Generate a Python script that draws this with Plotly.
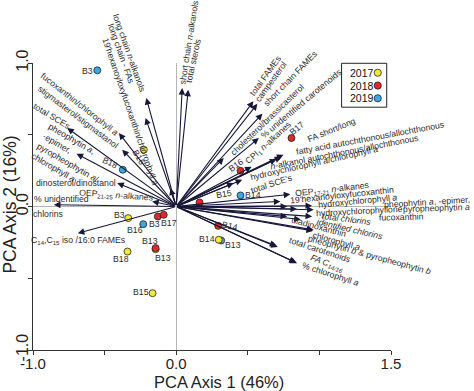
import plotly.graph_objects as go

FONT = "Liberation Sans, Arial, sans-serif"
TXT = "#2b2b2b"
ARROW = "#17173a"

# ---------------- variable loadings (arrow tips) ----------------
var_names = [
    "% unidentified chlorins", "C14,C15 iso/16:0 FAMEs", "OEP21-25 n-alkanes",
    "dinosterol/dinostanol", "pheophytin a, -epimer, pyropheophytin a/chlorophyll a",
    "total SCEs", "stigmasterol/stigmastanol", "fucoxanthin/chlorophyll a",
    "long chain n-alkanols", "long chain - FAs", "19'hexanoyloxyfucoxanthin/chlorophyll a",
    "short chain n-alkanols", "total sterols", "total FAMEs", "campesterol",
    "short chain FAMEs", "cholesterol/brassicasterol", "% unidentified carotenoids",
    "CPI1 n-alkanes", "FA short/long", "fatty acid autochthonous/allochthonous",
    "n-alkanol autochthonous/allochthonous", "hydroxychlorophyll a/chlorophyll a",
    "total SCE's", "OEP17-21 n-alkanes", "19'hexanoyloxyfucoxanthin",
    "hydroxychlorophyll a", "pheophytin a, -epimer", "hydroxychlorophyllone",
    "pyropheophytin a", "total chlorins", "fucoxanthin", "identified chlorins",
    "diadinoxanthin", "chlorophyll a", "pheophytin b & pyropheophytin b",
    "total carotenoids", "FA C14/16", "% chlorophyll a",
]
load_x = [-0.854, -0.687, -0.168, -0.412, -0.696, -0.761, -0.377, -0.400, -0.209, -0.214,
          -0.040, 0.042, 0.084, 0.539, 0.567, 0.602, 0.332, 0.577, 0.527, 0.749,
          0.735, 0.700, 0.461, 0.401, 0.797, 0.728, 0.775, 0.949, 0.960, 0.844,
          0.775, 0.949, 0.870, 0.960, 0.955, 0.709, 0.700, 0.844, 0.835]
load_y = [0.012, -0.186, 0.035, 0.163, 0.368, 0.547, 0.396, 0.512, 0.756, 0.617,
          0.125, 0.826, 0.814, 0.734, 0.716, 0.647, 0.338, 0.477, 0.277, 0.361,
          0.346, 0.330, 0.186, 0.163, 0.085, 0.035, 0.000, 0.005, -0.023, -0.018,
          -0.070, -0.070, -0.090, -0.163, -0.170, -0.283, -0.275, -0.395, -0.390]

# ---------------- sample scores ----------------
sample_year = ["2019", "2019", "2019", "2019", "2019",
               "2018", "2018", "2018", "2018", "2018", "2018", "2018",
               "2017", "2017", "2017", "2017", "2017", "2017"]
sample_site = ["B3", "B18", "B16", "B14", "B13",
               "B17", "B16", "B15", "B14", "B3", "B17", "B13",
               "B16", "B3", "B13", "B18", "B15", "B14"]
score_x = [-0.551, -0.373, -0.230, 0.449, 0.314,
           0.805, 0.449, 0.163, 0.293, -0.128, -0.087, -0.144,
           -0.226, -0.335, -0.144, -0.340, -0.165, 0.297]
score_y = [0.949, 0.256, -0.123, 0.077, -0.237,
           0.477, 0.249, 0.028, -0.135, -0.070, -0.058, -0.290,
           0.396, -0.081, -0.298, -0.314, -0.604, -0.232]

years = ["2017", "2018", "2019"]
year_colors = {"2017": "#f4e83a", "2018": "#e2262b", "2019": "#3ba7de"}
draw_order = ["2019", "2017", "2018"]

x_tickvals = [-1.0, -0.5, 0.0, 0.5, 1.0, 1.5]
x_ticktext = ["-1.0", "", "0.0", "", "", "1.5"]
y_tickvals = [-1.0, -0.5, 0.0, 0.5, 1.0]
y_ticktext = ["-1.0", "", "0.0", "", "1.0"]
x_title = "PCA Axis 1 (46%)"
y_title = "PCA Axis 2 (16%)"

# ---------------- label layout (index, html, dx px, dy px (down), angle, align) ----------------
var_labels = [
    (0, "% unidentified", 7.7, -5.5, 0, "left"),
    (0, "chlorins", -5.3, 9.5, 0, "left"),
    (1, "C<sub>14</sub>,C<sub>15</sub> iso /16:0 FAMEs", 0.7, 7.3, 0, "left"),
    (2, "OEP<sub>21-25</sub> <i>n</i>-alkanes", -35.6, -5.7, 4, "left"),
    (3, "dinosterol/dinostanol", -41.7, 0.2, 0, "left"),
    (4, "pheophytin <i>a</i>,<br>-epimer,<br>pyropheophytin <i>a</i>/<br>chlorophyll <i>a</i>", -5.4, 4.2, 30, "left"),
    (5, "total SCEs", -15.6, -11.8, 31, "left"),
    (6, "stigmasterol/stigmastanol", -44.2, -32.5, 37, "left"),
    (7, "fucoxanthin/chlorophyll <i>a</i>", -39.4, -29.3, 38, "left"),
    (8, "long chain <i>n</i>-alkanols", -17.2, -44.9, 70.5, "left"),
    (9, "long chain - FAs", -24.6, -63.6, 70.5, "left"),
    (10, "19'hexanoyloxyfucoxanthin/chlorophyll <i>a</i>", -39.7, -77.0, 71, "left"),
    (11, "short chain <i>n</i>-alkanols", 6.6, -46.1, -81, "left"),
    (12, "total sterols", 4.9, -28.8, -78, "left"),
    (13, "total FAMEs", 11.7, -25.2, -54, "left"),
    (14, "campesterol", 13.1, -22.1, -54, "left"),
    (15, "short chain FAMEs", 28.5, -35.4, -46, "left"),
    (16, "cholesterol/brassicasterol", 43.0, -38.4, -44, "left"),
    (17, "% unidentified carotenoids", 43.1, -34.8, -40, "left"),
    (18, "CPI<sub>1</sub> <i>n</i>-alkanes", 17.1, -24.5, -42, "left"),
    (19, "FA short/long", 47.8, -25.0, -22, "left"),
    (20, "fatty acid autochthonous/allochthonous", 89.0, -18.8, -10.5, "left"),
    (21, "<i>n</i>-alkanol autochthonous/allochthonous", 68.2, -6.9, -11, "left"),
    (22, "hydroxychlorophyll <i>a</i>/chlorophyll <i>a</i>", 72.1, -16.4, -12.6, "left"),
    (23, "total SCE's", 37.6, 0.9, -18, "left"),
    (24, "OEP<sub>17-21</sub> <i>n</i>-alkanes", 42.6, -5.3, -6.6, "left"),
    (25, "19'hexanoyloxyfucoxanthin", 61.7, -6.1, -6, "left"),
    (26, "hydroxychlorophyll <i>a</i>", 70.7, -5.4, -5.5, "left"),
    (27, "pheophytin <i>a</i>, -epimer,", 114.5, -3.5, -3.4, "left"),
    (28, "hydroxychlorophyllone", 45.7, 1.2, -3, "left"),
    (29, "pyropheophytin <i>a</i>", 139.0, -0.8, -2, "left"),
    (30, "<i>total chlorins</i>", 59.4, 2.8, 7, "left"),
    (31, "fucoxanthin", 89.1, 0.8, -1.5, "left"),
    (32, "<i>identified chlorins</i>", 49.2, 9.9, 13, "left"),
    (33, "diadinoxanthin", 5.7, -3.3, 15, "left"),
    (34, "chlorophyll <i>a</i>", 23.2, 9.7, 15, "left"),
    (35, "pheophytin <i>b</i> &amp; pyropheophytin <i>b</i>", 91.9, 7.7, 15.3, "left"),
    (36, "total carotenoids", 44.0, 3.9, 18, "left"),
    (37, "<i>FA C<sub>14/16</sub></i>", 30.1, 0.0, 20, "left"),
    (38, "% chlorophyll <i>a</i>", 34.6, 11.6, 18, "left"),
]

# sample label offsets (dx, dy down, angle) in sample order
sample_lab = [
    (-10, 1, 0), (-12.3, -6.5, 25), (-8.7, 6, 0), (12, 0, 0), (11.8, 4.3, 0),
    (5.7, -10, -40), (-4.2, -6, -35), (24.3, -8.7, -10), (12.3, 0, 12), (-3, 7, 0),
    (5, 7.7, 0), (-5.8, -7.6, 0),
    (-5.3, 7.5, 60), (-9, -3.3, 0), (7.5, 8.3, 0), (-6.5, 7.6, 0), (-12, -1.6, 0), (-11.8, -1, 0),
]

fig = go.Figure()

for yr in draw_order:
    idx = [i for i, s in enumerate(sample_year) if s == yr]
    fig.add_trace(go.Scatter(
        x=[score_x[i] for i in idx], y=[score_y[i] for i in idx],
        mode="markers", name=yr, showlegend=False,
        marker=dict(size=7, color=year_colors[yr], line=dict(color="#222", width=0.8)),
    ))

# arrows from the origin to each loading
for nm, x, y in zip(var_names, load_x, load_y):
    fig.add_annotation(
        x=x, y=y, ax=0, ay=0, xref="x", yref="y", axref="x", ayref="y",
        text="", showarrow=True, arrowhead=2, arrowsize=1.2, arrowwidth=1.1,
        arrowcolor=ARROW, standoff=0, startstandoff=0,
    )

# variable labels
for i, txt, dx, dy, ang, al in var_labels:
    fig.add_annotation(
        x=load_x[i], y=load_y[i], xref="x", yref="y", text=txt, showarrow=False,
        xshift=dx, yshift=-dy, textangle=ang, xanchor="center", yanchor="middle",
        align=al, font=dict(size=8.7, family=FONT, color=TXT),
    )

# sample labels
for i, (dx, dy, ang) in enumerate(sample_lab):
    fig.add_annotation(
        x=score_x[i], y=score_y[i], xref="x", yref="y", text=sample_site[i],
        showarrow=False, xshift=dx, yshift=-dy, textangle=ang,
        xanchor="center", yanchor="middle",
        font=dict(size=8.7, family=FONT, color=TXT),
    )

# custom legend (text left, symbol right)
lx0, lx1, ly0, ly1 = 0.862, 0.988, 0.846, 0.999
fig.add_shape(type="rect", xref="paper", yref="paper", x0=lx0, x1=lx1, y0=ly0, y1=ly1,
              line=dict(color="#222", width=1), fillcolor="white")
row_y0, row_step = 0.966, 0.0445
for k, yr in enumerate(years):
    yy = row_y0 - k * row_step
    fig.add_annotation(xref="paper", yref="paper", x=0.879, y=yy, text=yr, showarrow=False,
                       xanchor="left", yanchor="middle",
                       font=dict(size=10.5, family=FONT, color="#111"))
    fig.add_shape(type="circle", xref="paper", yref="paper", xsizemode="pixel", ysizemode="pixel",
                  xanchor=0.963, yanchor=yy, x0=-3.6, x1=3.6, y0=-3.6, y1=3.6,
                  fillcolor=year_colors[yr], line=dict(color="#222", width=0.8))

# axis titles
fig.add_annotation(xref="paper", yref="paper", x=0.52, y=0, yshift=-31.5, text=x_title,
                   showarrow=False, xanchor="center", yanchor="middle",
                   font=dict(size=16.5, family=FONT, color="#222"))
fig.add_annotation(xref="paper", yref="paper", x=0, y=0.505, xshift=-22.5, text=y_title,
                   showarrow=False, xanchor="center", yanchor="middle", textangle=-90,
                   font=dict(size=17.5, family=FONT, color="#222"))

fig.update_xaxes(
    range=[-1.0, 1.5], tickmode="array", tickvals=x_tickvals, ticktext=x_ticktext,
    showline=True, linecolor="#333", linewidth=1, ticks="outside", ticklen=4,
    tickcolor="#333", tickfont=dict(size=15, family=FONT, color="#222"),
    ticklabelstandoff=-4,
    zeroline=True, zerolinecolor="#b5b5b5", zerolinewidth=1, showgrid=False,
    automargin=False,
)
fig.update_yaxes(
    range=[-1.0, 1.0], tickmode="array", tickvals=y_tickvals, ticktext=y_ticktext,
    showline=True, linecolor="#333", linewidth=1, ticks="outside", ticklen=4,
    tickcolor="#333", tickangle=-90, tickfont=dict(size=16, family=FONT, color="#222"),
    ticklabelstandoff=-6,
    zeroline=True, zerolinecolor="#b5b5b5", zerolinewidth=1, showgrid=False,
    automargin=False,
)

fig.update_layout(
    width=474, height=391,
    margin=dict(l=33, r=83, t=63, b=41),
    paper_bgcolor="white", plot_bgcolor="white",
    font=dict(family=FONT),
    showlegend=False,
)

# remove the browser's default 8px body margin so the figure fills the window
fig.write_html("out.html", config={"displayModeBar": False},
               post_script="document.body.style.margin='0px';")
